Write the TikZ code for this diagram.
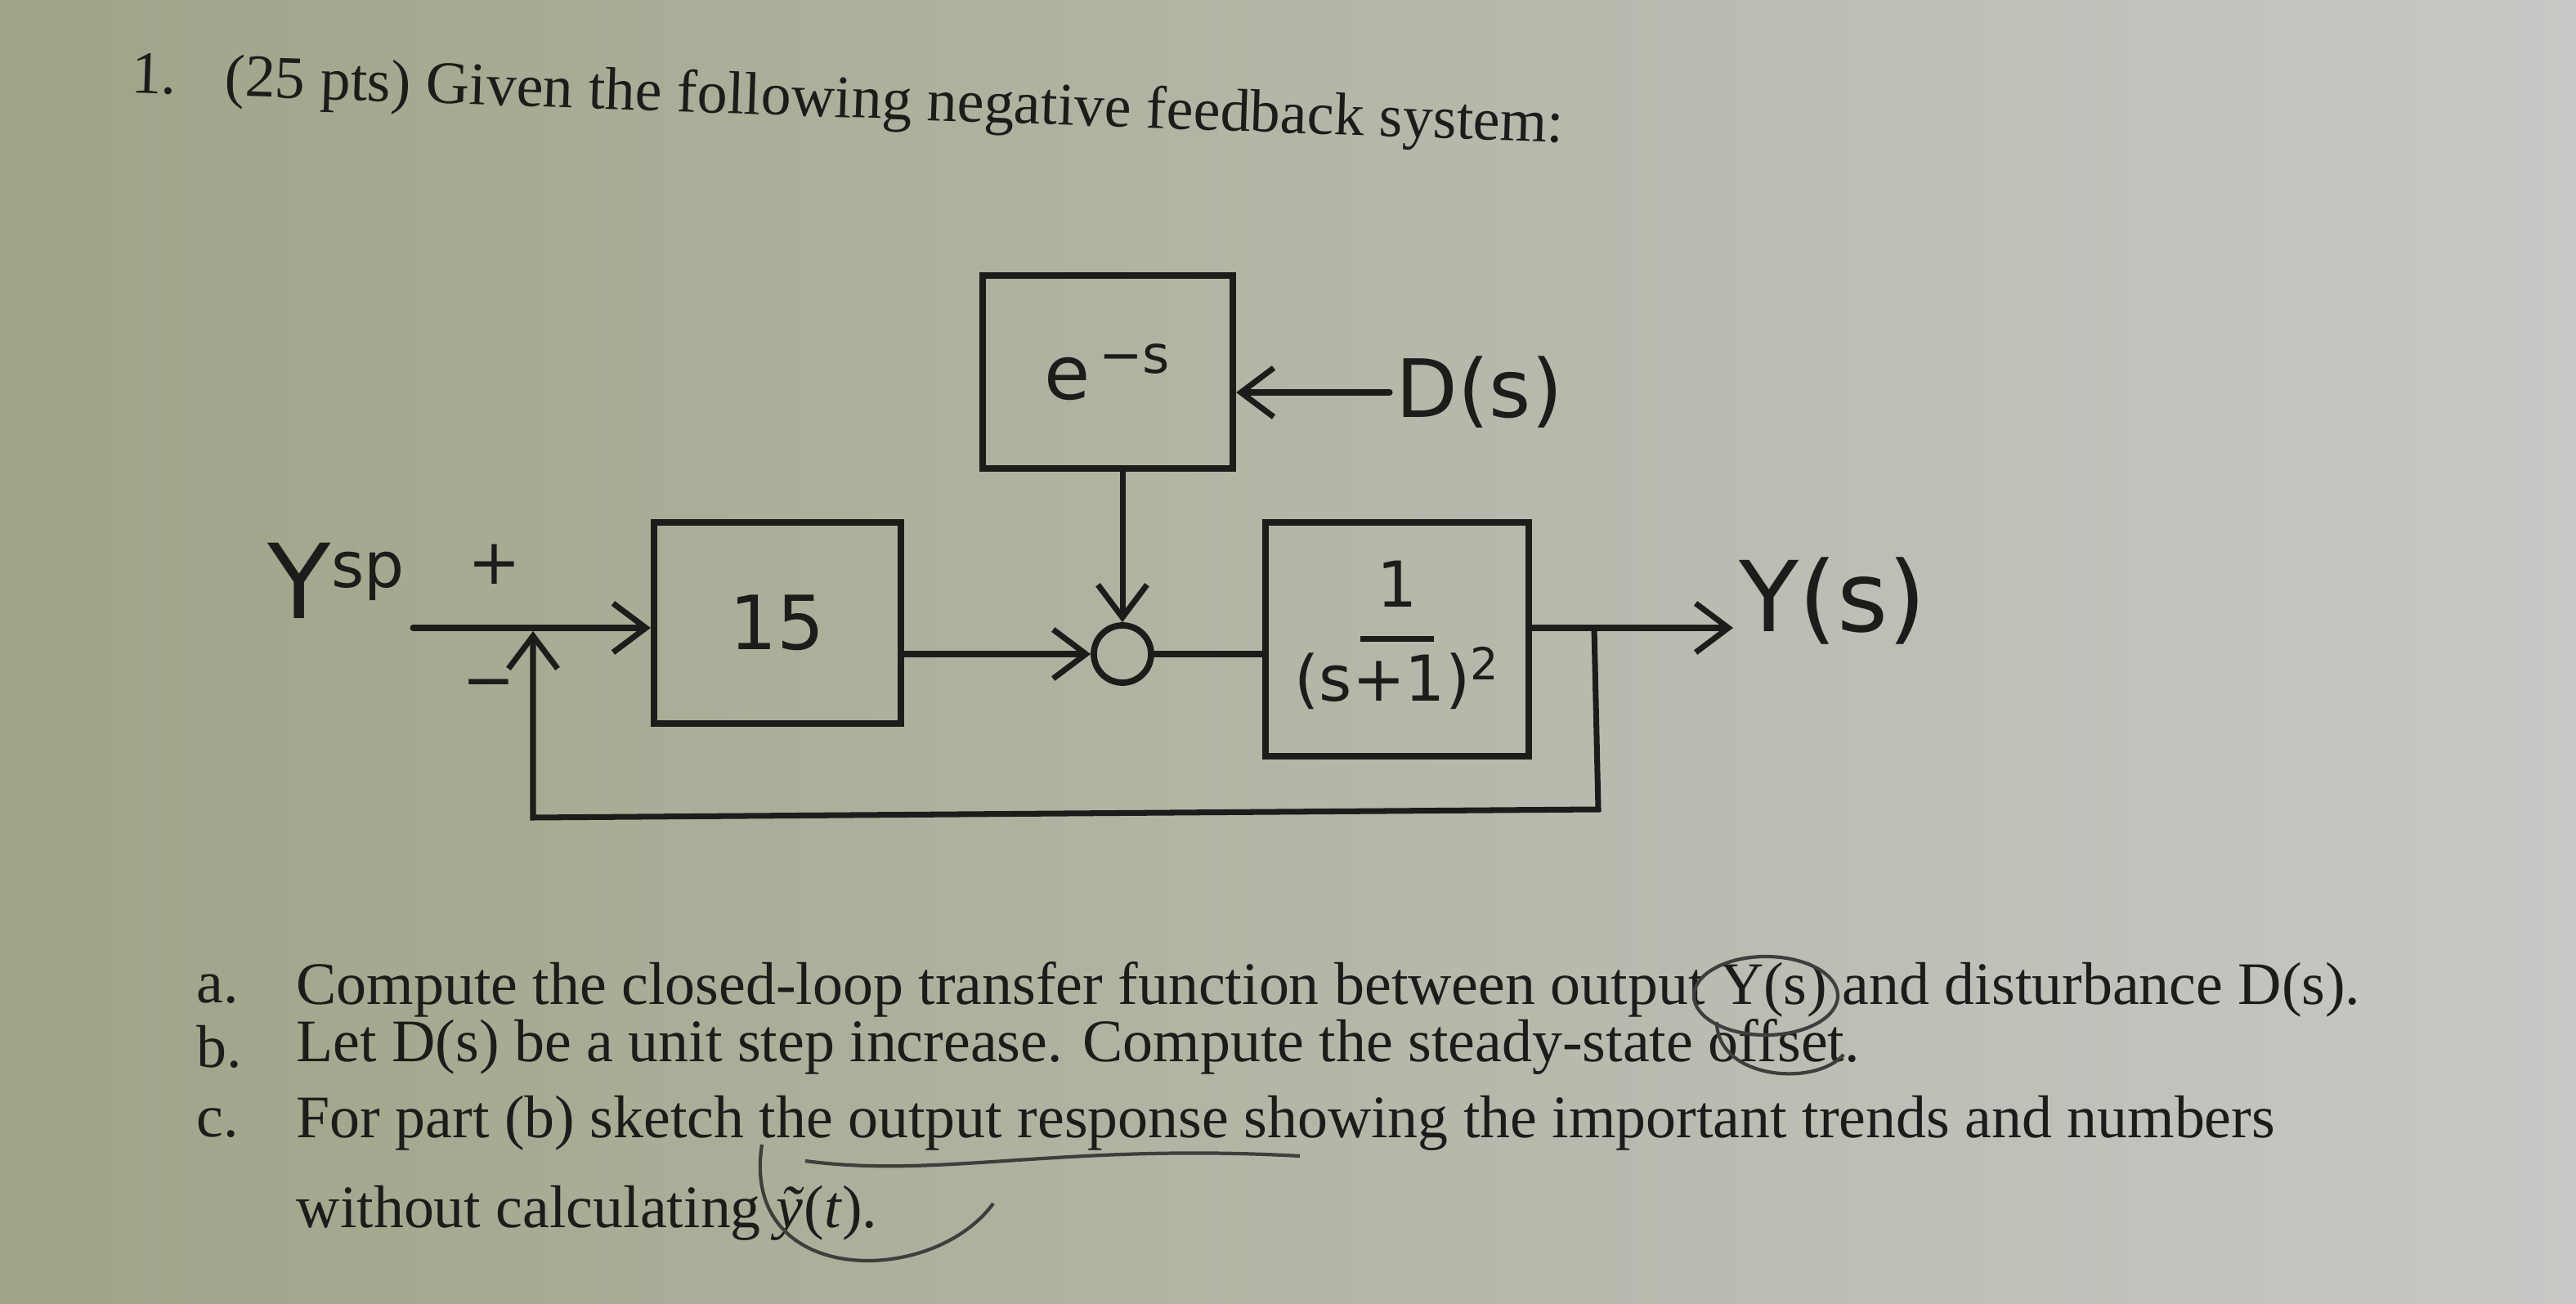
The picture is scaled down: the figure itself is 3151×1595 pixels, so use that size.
\documentclass[tikz,border=0pt]{standalone}
\usepackage{fontspec}
\setmainfont{Liberation Serif}
\newfontfamily\hand{DejaVu Sans}
\usetikzlibrary{arrows.meta,positioning}
\definecolor{paperL}{RGB}{160,163,135}
\definecolor{paperR}{RGB}{200,200,198}
\definecolor{ink}{RGB}{28,28,26}
\begin{document}
\begin{tikzpicture}[x=0.01cm,y=-0.01cm]
                        \tikzstyle{blk}=[draw=ink, line width=2.3pt, font=\hand\fontsize{26}{30}\selectfont, text=ink]
                        \tikzstyle{lbl}=[font=\hand\fontsize{28}{32}\selectfont, text=ink, inner sep=2pt]
                        \tikzstyle{wire}=[draw=ink, line width=2pt, line cap=round]
                        \tikzstyle{arr}=[-{Straight Barb[length=4mm,width=6mm,line width=2pt]}]
                        \tikzstyle{txt}=[anchor=west, font=\fontsize{21}{25}\selectfont, text=ink, inner sep=0pt]
                        \tikzstyle{pen}=[draw=ink!85, line width=1.2pt]
                        \shade[left color=paperL, right color=paperR] (0,0) rectangle (3151,1595);
                        \useasboundingbox (0,0) rectangle (3151,1595);
                        \node[txt, rotate=-2] (title) at (160,95) {1.\hspace{0.8em}(25 pts) Given the following negative feedback system:};
                        \node[blk, minimum width=3.06cm, minimum height=2.35cm] (delay) at (1355,455) {e\textsuperscript{\,\textminus s}};
                        \node[blk, minimum width=3.02cm, minimum height=2.45cm] (ctrl) at (951,762) {15};
                        \node[blk, minimum width=3.22cm, minimum height=2.85cm, font=\hand\fontsize{22}{26}\selectfont] (plant) at (1709,782) {\begin{tabular}{@{}c@{}}1\\[-14pt]\rule{0.9cm}{2pt}\\[-6pt](s+1)\textsuperscript{2}\end{tabular}};
                        \node[circle, draw=ink, line width=2.2pt, minimum size=0.7cm, inner sep=0pt] (junc) at (1373,800) {};
                        \node[lbl, anchor=west] (dist) at (1700,480) {D(s)};
                        \node[lbl, anchor=west, font=\hand\fontsize{34}{38}\selectfont] (out) at (2120,735) {Y(s)};
                        \node[lbl, anchor=west, font=\hand\fontsize{36}{40}\selectfont] (ref) at (320,710) {Y\raisebox{0.55ex}{\fontsize{22}{26}\selectfont sp}};
                        \node[lbl, font=\hand\fontsize{22}{26}\selectfont] (plus) at (605,690) {+};
                        \node[lbl, font=\hand\fontsize{22}{26}\selectfont] (minus) at (598,845) {\textminus};
                        \coordinate (start) at (505,768);
                        \coordinate (cmp) at (652,772);
                        \coordinate (branch) at (1950,768);
                        \coordinate (fbr) at (1955,990);
                        \coordinate (fbl) at (652,1000);
                        \draw[wire, arr] (start) -- (start -| ctrl.west);
                        \draw[wire, arr] (junc.west -| ctrl.east) -- (junc.west);
                        \draw[wire] (junc.east) -- (junc.east -| plant.west);
                        \draw[wire, arr] (dist.west) -- (dist.west -| delay.east);
                        \draw[wire, arr] (delay.south -| junc.north) -- (junc.north);
                        \draw[wire, arr] (branch -| plant.east) -- (branch -| out.west);
                        \draw[wire, arr] (branch) -- (fbr) -- (fbl) -- (cmp);
                        \node[txt] (la) at (240,1210) {a.};
                        \node[txt] (ta) at (362,1210) {Compute the closed-loop transfer function between output Y(s) and disturbance D(s).};
                        \node[txt] (lb) at (240,1280) {b.};
                        \node[txt] (tb) at (362,1280) {Let D(s) be a unit step increase. Compute the steady-state offset.};
                        \node[txt] (lc) at (240,1374) {c.};
                        \node[txt] (tc) at (362,1374) {For part (b) sketch the output response showing the important trends and numbers};
                        \node[txt] (td) at (362,1484) {without calculating \textit{ỹ}(\textit{t}).};
                        \draw[pen] (2160,1218) ellipse (88 and 48);
                        \draw[pen] (2100,1250) .. controls (2100,1320) and (2220,1330) .. (2255,1290);
                        \draw[pen] (985,1420) .. controls (1150,1442) and (1300,1398) .. (1590,1414);
                        \draw[pen] (932,1400) .. controls (905,1575) and (1140,1575) .. (1215,1472);
\end{tikzpicture}
\end{document}
